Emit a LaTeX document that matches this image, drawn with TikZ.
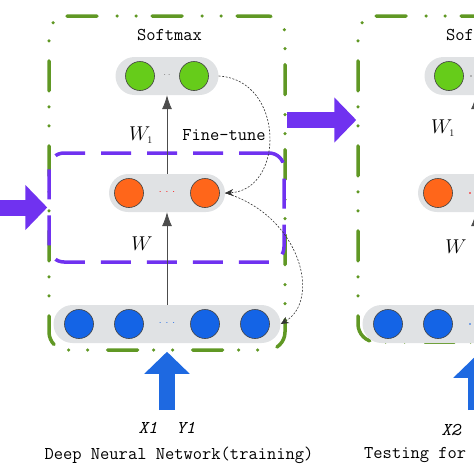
\documentclass[tikz,border=0pt]{standalone}
\usepackage{fix-cm}
\usetikzlibrary{arrows.meta}

\definecolor{boxgreen}{RGB}{96,152,36}
\definecolor{tunepurple}{RGB}{112,50,240}
\definecolor{arrowblue}{RGB}{30,105,225}
\definecolor{softgreen}{RGB}{102,204,26}
\definecolor{hidorange}{RGB}{255,102,26}
\definecolor{inblue}{RGB}{20,100,230}
\definecolor{layergray}{RGB}{224,226,228}

\tikzset{
  layer/.style={fill=layergray, rounded corners=19pt, minimum height=38pt, inner sep=0pt},
  neuron/.style={circle, draw=black!75, line width=0.6pt, minimum size=29pt, inner sep=0pt},
  outerbox/.style={draw=boxgreen, line width=3.5pt, line cap=round,
    dash pattern=on 30pt off 16pt on 0pt off 19pt on 0pt off 20pt, rounded corners=18pt, inner sep=0pt},
  tunebox/.style={draw=tunepurple, line width=3.5pt, dash pattern=on 30pt off 16pt, rounded corners=15pt, inner sep=0pt},
  flow/.style={draw=black!70, line width=0.8pt, -{Latex[length=14pt,width=10pt]}},
  tune/.style={black!80, line width=0.6pt, dash pattern=on 2pt off 1.5pt, -{Stealth[length=8pt,width=7pt]}},
  bigarrow/.style={line width=16pt, -{Triangle[length=22pt,width=44pt]}},
  lbl/.style={font=\fontsize{18}{20}\selectfont\ttfamily, inner sep=0pt},
  wlbl/.style={font=\fontsize{20}{24}\selectfont, inner sep=0pt},
}

\begin{document}
\begin{tikzpicture}[x=1pt,y=-1pt]
  \useasboundingbox (0,0) rectangle (474,474);
  \clip (0,0) rectangle (474,474);

  \node [outerbox, minimum width=236pt, minimum height=334pt] (train) at (167,183) {};
  \node [tunebox, minimum width=235pt, minimum height=109pt] (tunearea) at (166.5,207.5) {};

  \node [layer, minimum width=103pt] (out) at (167,76) {};
  \node [neuron, fill=softgreen] (out1) at (140,76) {};
  \node [neuron, fill=softgreen] (out2) at (194,76) {};
  \node [text=gray] (outdots) at (167,75) {$\cdot\,\cdot$};

  \node [layer, minimum width=116pt] (hid) at (167,193) {};
  \node [neuron, fill=hidorange] (hid1) at (129,193) {};
  \node [neuron, fill=hidorange] (hid2) at (205,193) {};
  \node [text=red] (hiddots) at (167,192) {$\cdot\,\cdot\,\cdot$};

  \node [layer, minimum width=227pt] (inp) at (167,324) {};
  \node [neuron, fill=inblue] (inp1) at (79,324) {};
  \node [neuron, fill=inblue] (inp2) at (129,324) {};
  \node [neuron, fill=inblue] (inp3) at (205,324) {};
  \node [neuron, fill=inblue] (inp4) at (255,324) {};
  \node [text=inblue] (inpdots) at (167,323) {$\cdot\,\cdot\,\cdot$};

  \draw [flow] (inp.north) -- (hid.south);
  \draw [flow] (hid.north) -- (out.south);

  \node [lbl] (sm) at (169.5,35) {Softmax};
  \node [wlbl] (w1) at (141,135) {$W_{\scriptscriptstyle 1}$};
  \node [lbl] (ft) at (224,135) {Fine-tune};
  \node [wlbl] (w) at (142,244) {$W$};

  \draw [tune] (out.east) .. controls (285,80) and (285,190) .. (hid.east);
  \draw [tune] (hid.east) .. controls (300,215) and (322,300) .. (inp.east);

  \coordinate (leftin) at (-5,207.5);
  \draw [bigarrow, tunepurple] (leftin) -- (tunearea.west);

  \coordinate (in1) at (167,410);
  \draw [bigarrow, arrowblue] (in1) -- (train.south);

  \node [lbl, font=\fontsize{18}{20}\selectfont\ttfamily\itshape] (xy1) at (167,428) {X1~~Y1};
  \node [lbl] (cap1) at (179,455) {Deep Neural Network(training)};

  \node [outerbox, minimum width=236pt, minimum height=326pt] (test) at (476,179) {};

  \coordinate (midrow) at (0,120);
  \draw [bigarrow, tunepurple] (train.east |- midrow) -- (test.west |- midrow);

  \node [layer, minimum width=103pt] (tout) at (476,76) {};
  \node [neuron, fill=softgreen] (tout1) at (449,76) {};
  \node [neuron, fill=softgreen] (tout2) at (503,76) {};
  \fill [gray] (471,76) circle (0.8);

  \node [layer, minimum width=116pt] (thid) at (476,193) {};
  \node [neuron, fill=hidorange] (thid1) at (438,193) {};
  \node [neuron, fill=hidorange] (thid2) at (514,193) {};
  \fill [red] (470,193) circle (0.8);

  \node [layer, minimum width=227pt] (tinp) at (476,324) {};
  \node [neuron, fill=inblue] (tinp1) at (388,324) {};
  \node [neuron, fill=inblue] (tinp2) at (438,324) {};
  \fill [inblue] (470,324) circle (0.8);

  \draw [flow] (tinp.north) -- (thid.south);
  \draw [flow] (thid.north) -- (tout.south);

  \node [lbl, anchor=west] (sm2) at (446,35) {Sof};
  \node [wlbl] (tw1) at (443,128) {$W_{\scriptscriptstyle 1}$};
  \node [wlbl] (tw) at (456,247) {$W$};

  \coordinate (in2) at (476,410);
  \draw [bigarrow, arrowblue] (in2) -- ([yshift=-12pt]test.south);

  \node [lbl, font=\fontsize{18}{20}\selectfont\ttfamily\itshape] (x2) at (451,430) {X2};
  \node [lbl, anchor=west] (cap2) at (364,455) {Testing for};
\end{tikzpicture}
\end{document}
